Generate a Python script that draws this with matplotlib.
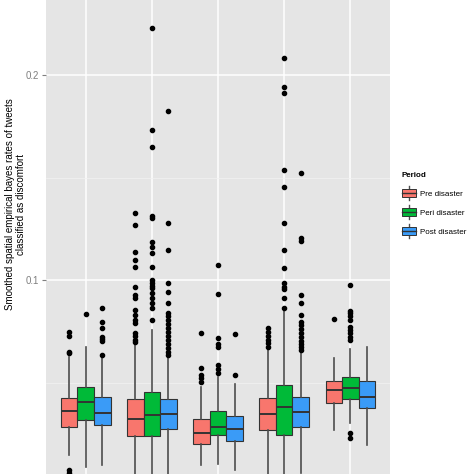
import matplotlib
matplotlib.use('Agg')
import matplotlib.pyplot as plt
from matplotlib.legend_handler import HandlerBase
from matplotlib.patches import Rectangle
from matplotlib.lines import Line2D

plt.rcParams['font.family'] = ['Liberation Sans', 'DejaVu Sans']

# ---------------- data ----------------
groups = ['1', '2', '3', '4', '5']
periods = ['Pre disaster', 'Peri disaster', 'Post disaster']
colors = ['#F8766D', '#00BA38', '#3A9BF7']

q1_pre = [0.0284, 0.0239, 0.0200, 0.0268, 0.0398]
med_pre = [0.0361, 0.0323, 0.0252, 0.0348, 0.0463]
q3_pre = [0.0424, 0.0421, 0.0323, 0.0424, 0.0509]
lo_pre = [0.0146, 0.0020, 0.0098, 0.0020, 0.0268]
hi_pre = [0.0626, 0.0691, 0.0480, 0.0662, 0.0621]
out_pre = [
    [0.0748, 0.0725, 0.0650, 0.0645, 0.0073, 0.0060],
    [0.1325, 0.1268, 0.1138, 0.1098, 0.1062, 0.0967, 0.0927, 0.0912, 0.0854,
     0.0829, 0.0805, 0.0790, 0.0741, 0.0727, 0.0707, 0.0697],
    [0.0743, 0.0569, 0.0537, 0.0522, 0.0504],
    [0.0767, 0.0746, 0.0727, 0.0707, 0.0693, 0.0675],
    [0.0808],
]

q1_peri = [0.0317, 0.0239, 0.0242, 0.0242, 0.0421]
med_peri = [0.0406, 0.0343, 0.0284, 0.0379, 0.0472]
q3_peri = [0.0478, 0.0454, 0.0360, 0.0488, 0.0528]
lo_peri = [0.0089, 0.0020, 0.0102, 0.0020, 0.0301]
hi_peri = [0.0675, 0.0756, 0.0528, 0.0852, 0.0662]
out_peri = [
    [0.0834],
    [0.2229, 0.1732, 0.1650, 0.1312, 0.1302, 0.1187, 0.1162, 0.1133, 0.1062,
     0.1000, 0.0985, 0.0971, 0.0961, 0.0937, 0.0912, 0.0888, 0.0863, 0.0805],
    [0.1073, 0.0932, 0.0716, 0.0688, 0.0672, 0.0585, 0.0566, 0.0546],
    [0.2084, 0.1943, 0.1912, 0.1537, 0.1454, 0.1280, 0.1149, 0.1059, 0.0985,
     0.0966, 0.0954, 0.0914, 0.0862],
    [0.0976, 0.0850, 0.0837, 0.0824, 0.0805, 0.0769, 0.0755, 0.0740, 0.0724,
     0.0707, 0.0252, 0.0228],
]

q1_post = [0.0291, 0.0272, 0.0216, 0.0281, 0.0374]
med_post = [0.0353, 0.0345, 0.0272, 0.0355, 0.0431]
q3_post = [0.0428, 0.0421, 0.0337, 0.0431, 0.0509]
lo_post = [0.0098, 0.0020, 0.0073, 0.0060, 0.0195]
hi_post = [0.0620, 0.0630, 0.0493, 0.0650, 0.0672]
out_post = [
    [0.0863, 0.0797, 0.0764, 0.0722, 0.0712, 0.0702, 0.0634],
    [0.1824, 0.1280, 0.1146, 0.0984, 0.0943, 0.0886, 0.0839, 0.0824, 0.0805,
     0.0785, 0.0766, 0.0746, 0.0727, 0.0707, 0.0688, 0.0668, 0.0649, 0.0634],
    [0.0737, 0.0537],
    [0.1520, 0.1203, 0.1192, 0.0927, 0.0889, 0.0829, 0.0797, 0.0780, 0.0760,
     0.0740, 0.0723, 0.0705, 0.0690, 0.0675, 0.0659],
    [],
]

y_ticks = [0.1, 0.2]
y_tick_labels = ['0.1', '0.2']
y_minor = [0.05, 0.15]

series = [
    (q1_pre, med_pre, q3_pre, lo_pre, hi_pre, out_pre),
    (q1_peri, med_peri, q3_peri, lo_peri, hi_peri, out_peri),
    (q1_post, med_post, q3_post, lo_post, hi_post, out_post),
]

# ---------------- figure ----------------
fig = plt.figure(figsize=(4.74, 4.74), dpi=100)
ax = fig.add_axes([46 / 474, 0.0, 344 / 474, 1.0])
ax.set_facecolor('#E5E5E5')

dodge = 0.25
for k, (q1, med, q3, lo, hi, out) in enumerate(series):
    stats = []
    for i in range(len(groups)):
        stats.append(dict(q1=q1[i], med=med[i], q3=q3[i], whislo=lo[i],
                          whishi=hi[i], fliers=out[i]))
    pos = [i + 1 + (k - 1) * dodge for i in range(len(groups))]
    ax.bxp(stats, positions=pos, widths=0.25, patch_artist=True,
           showcaps=False,
           boxprops=dict(facecolor=colors[k], edgecolor='#333333', linewidth=0.8),
           medianprops=dict(color='#333333', linewidth=1.4),
           whiskerprops=dict(color='#4D4D4D', linewidth=1.2),
           flierprops=dict(marker='o', markerfacecolor='black',
                           markeredgecolor='black', markersize=3.0, linestyle='none'))

ax.set_xlim(0.4, len(groups) + 0.6)
ax.set_ylim(0.0054, 0.2366)
ax.set_xticks(range(1, len(groups) + 1))
ax.set_xticklabels([])
ax.set_yticks(y_ticks)
ax.set_yticklabels(y_tick_labels)
ax.set_yticks(y_minor, minor=True)
ax.tick_params(axis='x', length=0)
ax.tick_params(axis='y', which='major', length=3, color='#7F7F7F',
               labelcolor='#7F7F7F', labelsize=7, pad=2)
ax.tick_params(axis='y', which='minor', length=0)
ax.set_axisbelow(True)
ax.grid(True, which='major', color='white', linewidth=1.1)
ax.grid(True, which='minor', axis='y', color='#F2F2F2', linewidth=0.5)
for s in ax.spines.values():
    s.set_visible(False)

fig.text(15.5 / 474, 0.569,
         'Smoothed spatial empirical bayes rates of tweets\nclassified as discomfort',
         rotation=90, ha='center', va='center', fontsize=7, linespacing=1.05)


class BoxHandler(HandlerBase):
    def create_artists(self, legend, orig_handle, xdescent, ydescent,
                       width, height, fontsize, trans):
        c = orig_handle.get_facecolor()
        x0, y0 = -xdescent, -ydescent
        cx = x0 + width / 2
        whisk = Line2D([cx, cx], [y0 - height * 0.2, y0 + height * 1.2],
                       color='#4D4D4D', linewidth=1.0, transform=trans)
        box = Rectangle((x0, y0 + height * 0.1), width, height * 0.8,
                        facecolor=c, edgecolor='#333333', linewidth=0.7,
                        transform=trans)
        medl = Line2D([x0, x0 + width], [y0 + height / 2] * 2, color='#333333',
                      linewidth=1.0, transform=trans)
        return [whisk, box, medl]


handles = [Rectangle((0, 0), 1, 1, facecolor=c) for c in colors]
leg = fig.legend(handles, periods, loc='upper left',
                 bbox_to_anchor=(402 / 474, 1 - 172 / 474),
                 frameon=False, fontsize=5.8, title='Period',
                 title_fontproperties=dict(weight='bold', size=5.8),
                 handler_map={Rectangle: BoxHandler()},
                 handlelength=1.7, handleheight=1.55, handletextpad=0.55,
                 labelspacing=1.12, borderaxespad=0, borderpad=0)
leg._legend_box.align = 'left'

fig.savefig('out.png', dpi=100)
